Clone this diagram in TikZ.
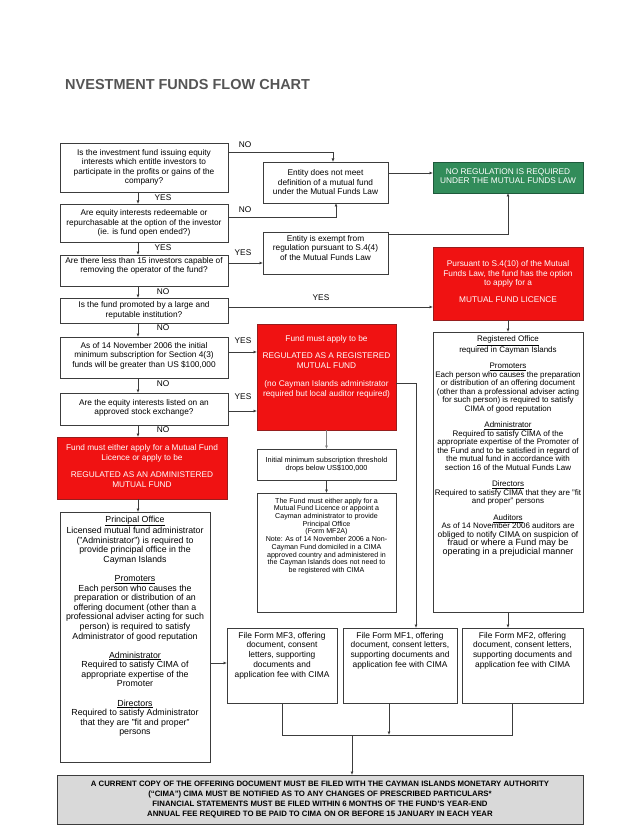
\documentclass[tikz,border=0pt]{standalone}
\usepackage{fontspec}
\setmainfont{Liberation Sans}
\usetikzlibrary{arrows.meta}
\definecolor{linec}{RGB}{60,60,60}
\definecolor{redf}{RGB}{240,18,18}
\definecolor{redd}{RGB}{150,30,30}
\definecolor{greenf}{RGB}{50,140,90}
\definecolor{greend}{RGB}{30,90,60}
\definecolor{greyf}{RGB}{217,217,217}
\definecolor{titlec}{RGB}{85,85,85}
\newcommand{\bx}[8]{%
  \node[#1, anchor=north west] (#2) at (#3,#4)
   {\parbox[c][\dimexpr #6pt-#4pt\relax][#7]{\dimexpr #5pt-#3pt-2pt\relax}{\centering #8\par}};}
\begin{document}
\begin{tikzpicture}[x=1pt,y=-1pt,
  box/.style={draw=linec, line width=0.8pt, fill=white, text=black, inner xsep=1pt, inner ysep=0pt, outer sep=0pt},
  redbox/.style={box, fill=redf, draw=redd, text=white},
  greenbox/.style={box, fill=greenf, draw=greend, text=white},
  greybox/.style={box, fill=greyf},
  fq/.style={font=\fontsize{8.3}{9.5}\selectfont},
  fr/.style={font=\fontsize{8.3}{9.8}\selectfont},
  fro/.style={font=\fontsize{8}{8.5}\selectfont},
  fbl/.style={font=\fontsize{8.8}{9.6}\selectfont},
  fsm/.style={font=\fontsize{7.1}{7.7}\selectfont},
  fth/.style={font=\fontsize{7.3}{8.4}\selectfont},
  fmf/.style={font=\fontsize{8.4}{9.8}\selectfont},
  fbot/.style={font=\fontsize{7.8}{9.8}\selectfont\bfseries},
  lab/.style={font=\fontsize{8.3}{9}\selectfont, inner sep=0pt, text=black},
  arr/.style={-{Latex[length=3.5pt,width=3pt]}, line width=0.7pt, draw=linec},
  ln/.style={line width=0.7pt, draw=linec}
]
\useasboundingbox (0,0) rectangle (638,826);

\node[anchor=base west, inner sep=0pt, text=titlec, font=\fontsize{14.5}{16}\selectfont\bfseries] (title) at (65,90) {NVESTMENT FUNDS FLOW CHART};

% left column
\bx{box,fq}{q1}{60}{143}{228}{192}{c}{Is the investment fund issuing equity\\ interests which entitle investors to\\ participate in the profits or gains of the\\ company?}
\bx{box,fq}{q2}{60}{204}{228}{242}{c}{Are equity interests redeemable or\\ repurchasable at the option of the investor\\ (ie. is fund open ended?)}
\bx{box,fq}{q3}{60}{255}{228}{286}{t}{\vspace*{2pt}Are there less than 15 investors capable of\\ removing the operator of the fund?}
\bx{box,fq}{q4}{60}{298}{228}{323}{c}{Is the fund promoted by a large and\\ reputable institution?}
\bx{box,fq}{q5}{60}{337}{228}{378}{c}{\vspace*{-4pt}As of 14 November 2006 the initial\\ minimum subscription for Section 4(3)\\ funds will be greater than US \$100,000}
\bx{box,fq}{q6}{60}{393}{228}{425}{c}{\vspace*{-2pt}Are the equity interests listed on an\\ approved stock exchange?}
\bx{redbox,fr}{redL}{57}{437}{227}{499}{c}{\vspace*{-4pt}Fund must either apply for a Mutual Fund\\ Licence or apply to be\\[8pt] REGULATED AS AN ADMINISTERED\\ MUTUAL FUND}
\bx{box,fbl}{bigL}{60}{512}{210}{762}{t}{\vspace*{4pt}\underline{Principal Office}\\ Licensed mutual fund administrator\\ ("Administrator") is required to\\ provide principal office in the\\ Cayman Islands\\[9.5pt] \underline{Promoters}\\ Each person who causes the\\ preparation or distribution of an\\ offering document (other than a\\ professional adviser acting for such\\ person) is required to satisfy\\ Administrator of good reputation\\[9.5pt] \underline{Administrator}\\ Required to satisfy CIMA of\\ appropriate expertise of the\\ Promoter\\[9.5pt] \underline{Directors}\\ Required to satisfy Administrator\\ that they are "fit and proper"\\ persons}

% middle column
\bx{box,fq}{ent}{263}{162}{388}{203}{c}{Entity does not meet\\ definition of a mutual fund\\ under the Mutual Funds Law}
\bx{box,fq}{exm}{263}{232}{388}{274}{t}{\vspace*{3pt}Entity is exempt from\\ regulation pursuant to S.4(4)\\ of the Mutual Funds Law}
\bx{redbox,fr}{regr}{257}{324}{396}{430}{t}{\vspace*{11pt}Fund must apply to be\\[8pt] REGULATED AS A REGISTERED\\ MUTUAL FUND\\[8pt] (no Cayman Islands administrator\\ required but local auditor required)}
\bx{box,fth}{thr}{257}{449}{396}{480}{c}{Initial minimum subscription threshold\\ drops below US\$100,000}
\bx{box,fsm}{fm}{257}{493}{396}{612}{t}{\vspace*{5pt}The Fund must either apply for a\\ Mutual Fund Licence or appoint a\\ Cayman administrator to provide\\ Principal Office\\ (Form MF2A)\\ Note: As of 14 November 2006 a Non-\\ Cayman Fund domiciled in a CIMA\\ approved country and administered in\\ the Cayman Islands does not need to\\ be registered with CIMA}

% right column
\bx{greenbox,fq}{green}{433}{162}{583}{193}{c}{\vspace*{-3pt}NO REGULATION IS REQUIRED\\ UNDER THE MUTUAL FUNDS LAW}
\bx{redbox,fr}{lic}{433}{247}{583}{320}{c}{\vspace*{-4pt}Pursuant to S.4(10) of the Mutual\\ Funds Law, the fund has the option\\ to apply for a\\[7pt] MUTUAL FUND LICENCE}
\bx{box,fro}{rego}{433}{332}{583}{612}{t}{\vspace*{4pt}\underline{Registered Office}\\ required in Cayman Islands\\[8pt] \underline{Promoters}\\ Each person who causes the preparation\\ or distribution of an offering document\\ (other than a professional adviser acting\\ for such person) is required to satisfy\\ CIMA of good reputation\\[8pt] \underline{Administrator}\\ Required to satisfy CIMA of the\\ appropriate expertise of the Promoter of\\ the Fund and to be satisfied in regard of\\ the mutual fund in accordance with\\ section 16 of the Mutual Funds Law\\[8pt] \underline{Directors}\\ Required to satisfy CIMA that they are "fit\\ and proper" persons\\[8pt] \underline{Auditors}\\ As of 14 November 2006 auditors are\\ {\fontsize{8.4}{9}\selectfont obliged to notify CIMA on suspicion of}\\ {\fontsize{9}{9.4}\selectfont fraud or where a Fund may be}\\ {\fontsize{9}{9.4}\selectfont operating in a prejudicial manner}}

% forms row
\bx{box,fmf}{mf3}{227}{628}{337}{703}{t}{\vspace*{4pt}File Form MF3, offering\\ document, consent\\ letters, supporting\\ documents and\\ application fee with CIMA}
\bx{box,fmf}{mf1}{343}{628}{457}{703}{t}{\vspace*{4pt}File Form MF1, offering\\ document, consent letters,\\ supporting documents and\\ application fee with CIMA}
\bx{box,fmf}{mf2}{462}{628}{583}{703}{t}{\vspace*{4pt}File Form MF2, offering\\ document, consent letters,\\ supporting documents and\\ application fee with CIMA}

\bx{greybox,fbot}{bot}{57}{775}{583}{824}{c}{A CURRENT COPY OF THE OFFERING DOCUMENT MUST BE FILED WITH THE CAYMAN ISLANDS MONETARY AUTHORITY\\ (“CIMA”) CIMA MUST BE NOTIFIED AS TO ANY CHANGES OF PRESCRIBED PARTICULARS*\\ FINANCIAL STATEMENTS MUST BE FILED WITHIN 6 MONTHS OF THE FUND’S YEAR-END\\ ANNUAL FEE REQUIRED TO BE PAID TO CIMA ON OR BEFORE 15 JANUARY IN EACH YEAR}

% helper coordinates
\coordinate (xcol) at (138,0);
\coordinate (x333) at (333,0);
\coordinate (x336) at (336,0);
\coordinate (x416) at (416,0);
\coordinate (x389) at (389,0);
\coordinate (x352) at (352,0);
\coordinate (x512) at (512,0);
\coordinate (y152) at (0,152);
\coordinate (y217) at (0,217);
\coordinate (y263) at (0,263);
\coordinate (y307) at (0,307);
\coordinate (y352) at (0,352);
\coordinate (y411) at (0,411);
\coordinate (y173) at (0,173);
\coordinate (y234) at (0,234);
\coordinate (y383) at (0,383);
\coordinate (y663) at (0,663);
\coordinate (y735) at (0,735);

% left column flow
\draw[arr] (q1.south -| xcol) -- (q2.north -| xcol);
\draw[arr] (q2.south -| xcol) -- (q3.north -| xcol);
\draw[arr] (q3.south -| xcol) -- (q4.north -| xcol);
\draw[arr] (q4.south -| xcol) -- (q5.north -| xcol);
\draw[arr] (q5.south -| xcol) -- (q6.north -| xcol);
\draw[arr] (q6.south -| xcol) -- (redL.north -| xcol);
\draw[arr] (redL.south -| xcol) -- (bigL.north -| xcol);
\node[lab] (l1) at (163,198) {YES};
\node[lab] (l2) at (163,248) {YES};
\node[lab] (l3) at (163,292) {NO};
\node[lab] (l4) at (163,328) {NO};
\node[lab] (l5) at (163,384) {NO};
\node[lab] (l6) at (163,430) {NO};

% branches
\draw[arr] (q1.east |- y152) -| (x333 |- ent.north);
\node[lab] (l7) at (245,145) {NO};
\draw[arr] (q2.east |- y217) -| (x336 |- ent.south);
\node[lab] (l8) at (245,210) {NO};
\draw[arr] (q3.east |- y263) -- (exm.west |- y263);
\node[lab] (l9) at (243,253) {YES};
\draw[arr] (q4.east |- y307) -- (lic.west |- y307);
\node[lab] (l10) at (321,298) {YES};
\draw[arr] (q5.east |- y352) -- (regr.west |- y352);
\node[lab] (l11) at (243,341) {YES};
\draw[arr] (q6.east |- y411) -- (regr.west |- y411);
\node[lab] (l12) at (243,397) {YES};

\draw[arr] (ent.east |- y173) -- (green.west |- y173);
\draw[arr] (exm.east |- y234) -| (green.south);
\draw[arr] (lic.south) -- (rego.north);
\draw[arr] (rego.south) -- (rego.south |- mf2.north);
\draw[arr] (regr.east |- y383) -| (x416 |- mf1.north);
\draw[arr, draw=gray] (regr.south) -- (thr.north);
\draw[arr] (thr.south) -- (fm.north);
\draw[arr] (bigL.east |- y663) -- (mf3.west |- y663);

\draw[ln] (mf3.south) |- (x512 |- y735) -- (x512 |- mf2.south);
\draw[arr] (x389 |- mf1.south) -- (x389 |- y735);
\draw[arr] (x352 |- y735) -- (x352 |- bot.north);
\end{tikzpicture}
\end{document}
